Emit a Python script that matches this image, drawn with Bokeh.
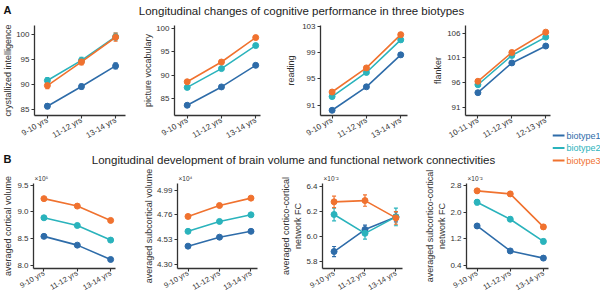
import math

from bokeh.core.properties import value
from bokeh.embed import file_html
from bokeh.layouts import column, row
from bokeh.models import (ColumnDataSource, FixedTicker, Label,
                          NumeralTickFormatter, Range1d, TeeHead, Title,
                          Whisker)
from bokeh.plotting import figure
from bokeh.resources import INLINE

FONT = "Liberation Sans"
INK = "#333333"

biotypes = ["biotype1", "biotype2", "biotype3"]
colors = ["#2e6ca9", "#2ab3bc", "#f0722f"]

ages = ["9-10 yrs", "11-12 yrs", "13-14 yrs"]
ages_flanker = ["10-11 yrs", "11-12 yrs", "12-13 yrs"]

# --- A: cognitive performance (mean and standard error per biotype) ---
crys_b1 = [85.7, 89.6, 93.7]
crys_b2 = [90.8, 94.8, 99.5]
crys_b3 = [89.8, 94.5, 99.4]
crys_err_b1 = [0.5, 0.5, 0.6]
crys_err_b2 = [0.6, 0.6, 0.7]
crys_err_b3 = [0.6, 0.6, 0.8]

vocab_b1 = [83.6, 87.5, 92.1]
vocab_b2 = [87.4, 91.4, 96.3]
vocab_b3 = [88.6, 92.8, 98.0]
vocab_err_b1 = [0.3, 0.3, 0.3]
vocab_err_b2 = [0.3, 0.3, 0.3]
vocab_err_b3 = [0.3, 0.3, 0.3]

read_b1 = [90.2, 93.8, 98.7]
read_b2 = [92.3, 96.0, 101.0]
read_b3 = [93.0, 96.7, 101.8]
read_err_b1 = [0.25, 0.25, 0.3]
read_err_b2 = [0.25, 0.25, 0.3]
read_err_b3 = [0.25, 0.25, 0.3]

flanker_b1 = [94.0, 100.0, 103.4]
flanker_b2 = [95.6, 101.5, 105.2]
flanker_b3 = [96.3, 102.1, 106.2]
flanker_err_b1 = [0.3, 0.3, 0.3]
flanker_err_b2 = [0.3, 0.3, 0.3]
flanker_err_b3 = [0.3, 0.3, 0.3]

# --- B: brain volume and network FC (scaled units) ---
cortvol_b1 = [8.54, 8.375, 8.105]
cortvol_b2 = [8.89, 8.745, 8.47]
cortvol_b3 = [9.25, 9.11, 8.84]
cortvol_err_b1 = [0.025, 0.025, 0.025]
cortvol_err_b2 = [0.03, 0.03, 0.03]
cortvol_err_b3 = [0.02, 0.02, 0.02]

subvol_b1 = [4.472, 4.555, 4.609]
subvol_b2 = [4.609, 4.700, 4.761]
subvol_b3 = [4.746, 4.847, 4.915]
subvol_err_b1 = [0.01, 0.01, 0.01]
subvol_err_b2 = [0.012, 0.012, 0.012]
subvol_err_b3 = [0.01, 0.01, 0.01]

ccfc_b1 = [5.882, 6.056, 6.156]
ccfc_b2 = [6.175, 6.026, 6.156]
ccfc_b3 = [6.275, 6.285, 6.148]
ccfc_err_b1 = [0.04, 0.035, 0.04]
ccfc_err_b2 = [0.05, 0.045, 0.07]
ccfc_err_b3 = [0.045, 0.045, 0.05]

scfc_b1 = [1.583, 0.835, 0.62]
scfc_b2 = [2.295, 1.785, 1.12]
scfc_b3 = [2.635, 2.544, 1.555]
scfc_err_b1 = [0.07, 0.05, 0.05]
scfc_err_b2 = [0.08, 0.06, 0.07]
scfc_err_b3 = [0.07, 0.07, 0.06]

crys_ticks = [85, 90, 95, 100]
vocab_ticks = [85, 90, 95, 100]
read_ticks = [91, 95, 99, 103]
flanker_ticks = [91, 96, 101, 106]
cortvol_ticks = [8.0, 8.5, 9.0, 9.5]
subvol_ticks = [4.30, 4.53, 4.76, 4.99]
ccfc_ticks = [5.8, 6.0, 6.2, 6.4]
scfc_ticks = [0.4, 1.2, 2.0, 2.8]


def style_axes(p, xcats, yticks, ylabel, label_standoff, yfmt, xfont):
    for ax in (p.xaxis[0], p.yaxis[0]):
        ax.axis_line_color = INK
        ax.axis_line_width = 1.3
        ax.major_tick_line_color = INK
        ax.major_tick_line_width = 1.1
        ax.major_tick_out = 3
        ax.major_tick_in = 0
        ax.minor_tick_line_color = None
        ax.major_label_text_font = FONT
        ax.major_label_text_font_size = "8px"
        ax.major_label_text_color = INK
        ax.major_label_standoff = 2
    p.xaxis.ticker = FixedTicker(ticks=list(range(len(xcats))))
    p.xaxis.major_label_overrides = {i: c for i, c in enumerate(xcats)}
    p.xaxis.major_label_orientation = math.pi / 6
    p.xaxis.major_label_standoff = 1
    p.xaxis.major_label_text_font_size = xfont
    p.yaxis.ticker = FixedTicker(ticks=yticks)
    if yfmt:
        p.yaxis.formatter = NumeralTickFormatter(format=yfmt)
    p.yaxis.axis_label = ylabel
    p.yaxis.axis_label_text_font = FONT
    p.yaxis.axis_label_text_font_size = "9px"
    p.yaxis.axis_label_text_font_style = "normal"
    p.yaxis.axis_label_text_color = INK
    p.yaxis.axis_label_standoff = label_standoff


def panel(width, height, border, xr, yr, xcats, yticks, ylabel, means, errs,
          label_standoff=0, yfmt=None, scale_text=None, xfont="7.5px"):
    left, right, top, bottom = border
    p = figure(width=width, height=height, x_range=Range1d(*xr),
               y_range=Range1d(*yr), output_backend="svg",
               toolbar_location=None, min_border_left=left,
               min_border_right=right, min_border_top=top,
               min_border_bottom=bottom)
    p.outline_line_color = None
    p.xgrid.grid_line_color = None
    p.ygrid.grid_line_color = None
    style_axes(p, xcats, yticks, ylabel, label_standoff, yfmt, xfont)

    xs = list(range(len(xcats)))
    for m, e, c in zip(means, errs, colors):
        src = ColumnDataSource(dict(
            x=xs, y=m,
            lo=[a - b for a, b in zip(m, e)],
            hi=[a + b for a, b in zip(m, e)]))
        p.line("x", "y", source=src, line_color=c, line_width=1.6)
        p.scatter("x", "y", source=src, size=6, fill_color=c, line_color=c)
        p.add_layout(Whisker(
            source=src, base="x", lower="lo", upper="hi",
            line_color=c, line_width=1.2,
            lower_head=TeeHead(size=4, line_color=c, line_width=1.2),
            upper_head=TeeHead(size=4, line_color=c, line_width=1.2)))

    if scale_text:
        # axis multiplier written just above the plotting area
        p.add_layout(Title(text=scale_text, align="left",
                           text_font=FONT, text_font_size="6.5px",
                           text_font_style="normal", text_color=INK,
                           standoff=3, offset=1), "above")
    return p


def strip(width, height):
    s = figure(width=width, height=height, x_range=Range1d(0, width),
               y_range=Range1d(height, 0), output_backend="svg",
               toolbar_location=None, x_axis_type=None, y_axis_type=None,
               min_border_left=0, min_border_right=0, min_border_top=0,
               min_border_bottom=0)
    s.outline_line_color = None
    return s


# Row A title
title_a = strip(600, 18)
title_a.add_layout(Label(x=3, y=9, text="A", text_font=FONT,
                         text_font_style="bold", text_font_size="11px",
                         text_color="#111111", text_baseline="middle"))
title_a.add_layout(Label(x=301, y=10,
                         text="Longitudinal changes of cognitive performance in three biotypes",
                         text_font=FONT, text_font_size="11.5px",
                         text_color="#222222", text_align="center",
                         text_baseline="middle"))

a1 = panel(140, 128, (33, 15, 4, 31), (-0.377, 2.29), (83.85, 101.73),
           ages, crys_ticks, "crystallized intelligence",
           [crys_b1, crys_b2, crys_b3],
           [crys_err_b1, crys_err_b2, crys_err_b3], label_standoff=0,
           xfont="8px")
a2 = panel(143, 128, (32, 23, 7, 30), (-0.371, 2.14), (81.42, 100.57),
           ages, vocab_ticks, "picture vocabulary",
           [vocab_b1, vocab_b2, vocab_b3],
           [vocab_err_b1, vocab_err_b2, vocab_err_b3], label_standoff=0,
           xfont="8px")
a3 = panel(147, 128, (34, 23, 5, 31), (-0.338, 2.197), (89.4, 103.2),
           ages, read_ticks, "reading",
           [read_b1, read_b2, read_b3],
           [read_err_b1, read_err_b2, read_err_b3], label_standoff=3,
           xfont="8px")
a4 = panel(122, 128, (31, 2, 4, 30), (-0.366, 2.14), (89.4, 107.54),
           ages_flanker, flanker_ticks, "flanker",
           [flanker_b1, flanker_b2, flanker_b3],
           [flanker_err_b1, flanker_err_b2, flanker_err_b3], label_standoff=1,
           xfont="8px")

# Row B title
title_b = strip(552, 22)
title_b.add_layout(Label(x=3, y=12.5, text="B", text_font=FONT,
                         text_font_style="bold", text_font_size="11px",
                         text_color="#111111", text_baseline="middle"))
title_b.add_layout(Label(x=293, y=13,
                         text="Longitudinal development of brain volume and functional network connectivities",
                         text_font=FONT, text_font_size="11.5px",
                         text_color="#222222", text_align="center",
                         text_baseline="middle"))

# Legend column to the right of row A: a short colored bar and a colored
# name for each biotype, stacked downward from the first entry.
leg = strip(48, 150)
leg_first, leg_step = 117, 12.5
leg_rows = [leg_first + i * leg_step for i in range(len(biotypes))]
leg_src = ColumnDataSource(dict(y=leg_rows, name=biotypes, color=colors))
leg.segment(x0=0, x1=12, y0="y", y1="y", line_color="color", line_width=2,
            source=leg_src)
leg.text(x=14, y="y", text="name", text_color="color",
         text_font=value(FONT), text_font_size="9px",
         text_baseline="middle", source=leg_src)

b1 = panel(140, 130, (31, 25, 15, 24), (-0.313, 2.146), (7.935, 9.535),
           ages, cortvol_ticks, "averaged cortical volume",
           [cortvol_b1, cortvol_b2, cortvol_b3],
           [cortvol_err_b1, cortvol_err_b2, cortvol_err_b3],
           label_standoff=1, yfmt="0.0", scale_text="×10⁵")
b2 = panel(138, 130, (31, 21, 15, 23), (-0.334, 2.207), (4.266, 5.05),
           ages, subvol_ticks, "averaged subcortical volume",
           [subvol_b1, subvol_b2, subvol_b3],
           [subvol_err_b1, subvol_err_b2, subvol_err_b3],
           label_standoff=0, yfmt="0.00", scale_text="×10⁴")
b3 = panel(144, 130, (39, 20, 15, 25), (-0.374, 2.213), (5.748, 6.42),
           ages, ccfc_ticks, "averaged cortico-cortical\nnetwork FC",
           [ccfc_b1, ccfc_b2, ccfc_b3],
           [ccfc_err_b1, ccfc_err_b2, ccfc_err_b3],
           label_standoff=0, yfmt="0.0", scale_text="×10⁻²")
b4 = panel(178, 130, (41, 52, 15, 23), (-0.32, 2.154), (0.309, 2.855),
           ages, scfc_ticks, "averaged subcortico-cortical\nnetwork FC",
           [scfc_b1, scfc_b2, scfc_b3],
           [scfc_err_b1, scfc_err_b2, scfc_err_b3],
           label_standoff=0, yfmt="0.0", scale_text="×10⁻²")

layout = column(
    title_a,
    row(column(row(a1, a2, a3, a4), title_b), leg),
    row(b1, b2, b3, b4),
)

open("out.html", "w").write(file_html(layout, INLINE))
